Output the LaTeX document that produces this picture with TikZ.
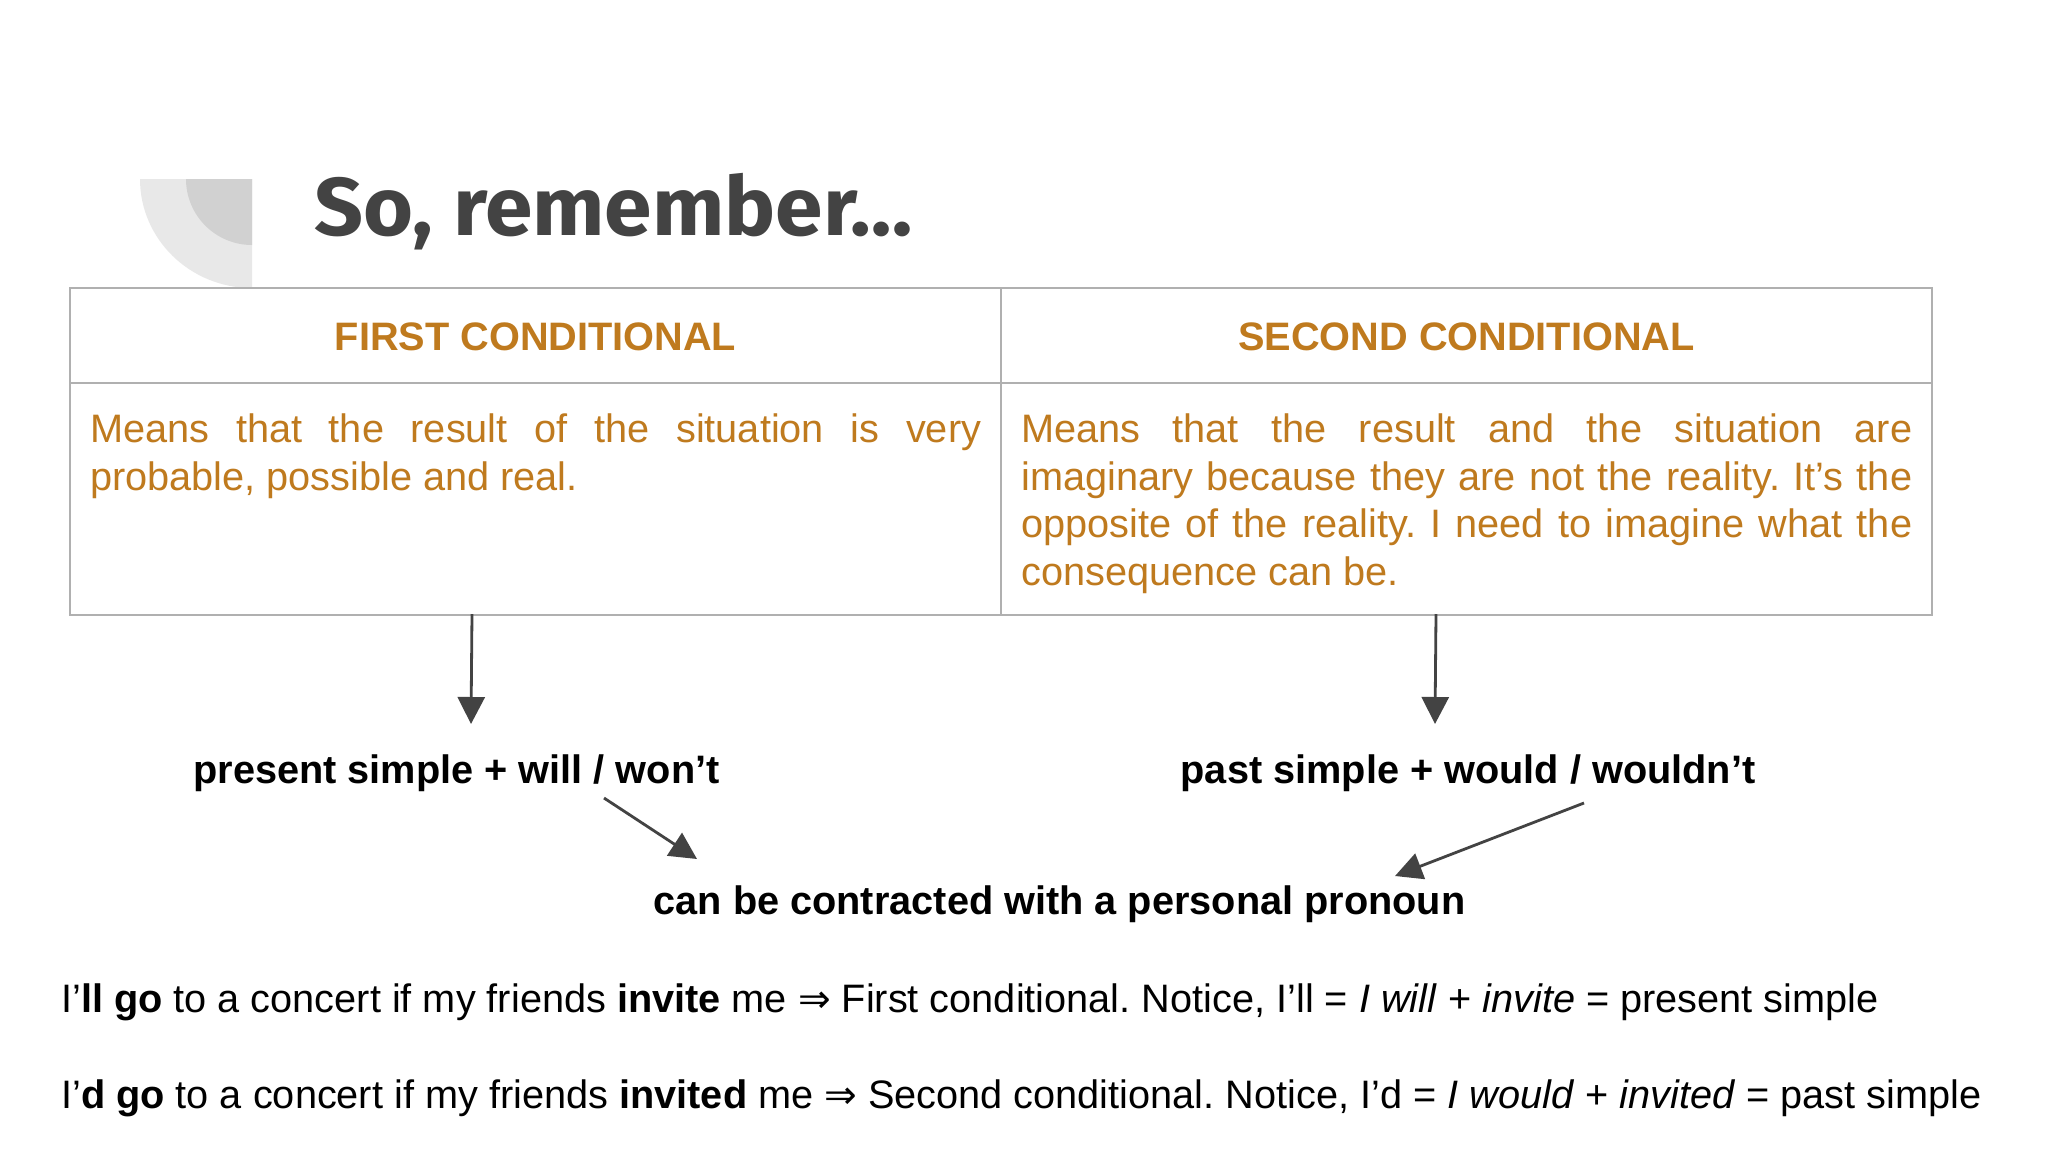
\documentclass[tikz,border=0pt]{standalone}
\usepackage{fontspec}
\setmainfont{Liberation Sans}
\newfontfamily\titlefont[FakeStretch=1.045]{Fira Sans}
\newfontfamily\symfont{DejaVu Sans}
\usetikzlibrary{arrows.meta}
\definecolor{ink}{HTML}{434343}
\definecolor{ochre}{HTML}{BF7A1E}
\definecolor{rule}{HTML}{B0B0B0}
\newcommand{\bodysize}{\fontsize{39.7}{47.7}\selectfont\frenchspacing}
\newcommand{\impl}{{\symfont\fontsize{39}{47.7}\selectfont ⇒}}
\tikzset{
  cell/.style={draw=rule,line width=2pt,inner sep=0,anchor=north west,fill=white},
  lab/.style={inner sep=0,anchor=base,font=\bodysize},
  head/.style={lab,text=ochre,font=\bodysize\bfseries},
  bold/.style={lab,text=black,font=\bodysize\bfseries},
  line/.style={inner sep=0,anchor=base west,font=\bodysize,text=black},
  para/.style={inner sep=0,anchor=base west,text=ochre},
  arr/.style={draw=ink,line width=2.8pt,-{Triangle[length=27pt,width=27pt]}}
}
\newcommand{\cellpara}[1]{\parbox[t]{891pt}{\bodysize\hyphenpenalty=10000\relax\parindent=0pt #1}}
\begin{document}
\begin{tikzpicture}[x=1pt,y=-1pt]
\useasboundingbox (0,0) rectangle (2048,1152);
\fill[white] (0,0) rectangle (2048,1152);
% corner decoration
\fill[black!9] (140,179) arc[start angle=180,end angle=90,x radius=112,y radius=109] -- (252,179) -- cycle;
\fill[black!18] (186,179) arc[start angle=180,end angle=90,x radius=66,y radius=66] -- (252,179) -- cycle;
\node[inner sep=0,anchor=base west,text=ink,font=\titlefont\bfseries\fontsize{82}{90}\selectfont] (title) at (314,235) {So, remember…};
% table
\node[cell,minimum width=931pt,minimum height=95pt] (h1) at (69,287) {};
\node[cell,minimum width=931pt,minimum height=95pt] (h2) at (1000,287) {};
\node[cell,minimum width=931pt,minimum height=232pt] (b1) at (69,382) {};
\node[cell,minimum width=931pt,minimum height=232pt] (b2) at (1000,382) {};
\node[head] (h1t) at (535.5,350) {FIRST CONDITIONAL};
\node[head] (h2t) at (1466.5,350) {SECOND CONDITIONAL};
\node[para] (p1) at (90,442.5) {\cellpara{Means that the result of the situation is very\linebreak probable, possible and real.}};
\node[para] (p2) at (1021,442.5) {\cellpara{Means that the result and the situation are\linebreak imaginary because they are not the reality. It’s the\linebreak opposite of the reality. I need to imagine what the\linebreak consequence can be.}};
% labels
\node[bold] (f1) at (456.5,783) {present simple + will / won’t};
\node[bold] (f2) at (1468,783) {past simple + would / wouldn’t};
\node[bold] (con) at (1059.5,914) {can be contracted with a personal pronoun};
\node[line] (l1) at (61,1012) {I’\textbf{ll go} to a concert if my friends \textbf{invite} me \impl\ First conditional. Notice, I’ll = \textit{I will} + \textit{invite} = present simple};
\node[line] (l2) at (61,1108) {I’\textbf{d go} to a concert if my friends \textbf{invited} me \impl\ Second conditional. Notice, I’d = \textit{I would} + \textit{invited} = past simple};
% arrows
\coordinate (a1s) at (472,614);
\coordinate (a1e) at (471,724);
\coordinate (a2s) at (1436,614);
\coordinate (a2e) at (1435,724);
\coordinate (a3s) at (604,798);
\coordinate (a3e) at (697,859);
\coordinate (a4s) at (1584,803);
\coordinate (a4e) at (1395,876);
\draw[arr] (a1s) -- (a1e);
\draw[arr] (a2s) -- (a2e);
\draw[arr] (a3s) -- (a3e);
\draw[arr] (a4s) -- (a4e);
\end{tikzpicture}
\end{document}
